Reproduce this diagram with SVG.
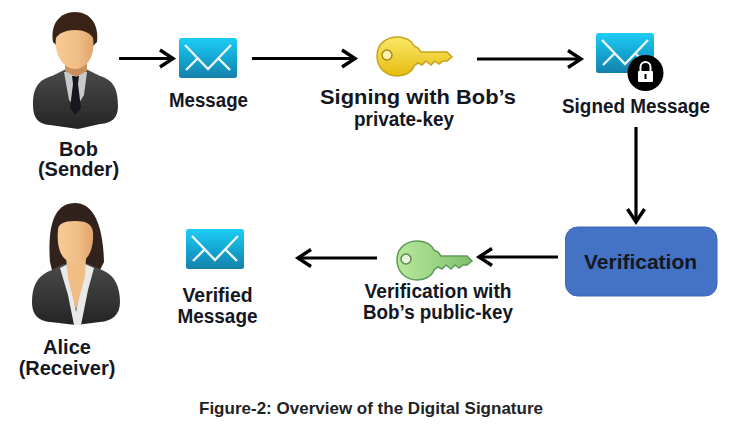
<svg xmlns="http://www.w3.org/2000/svg" width="755" height="448" viewBox="0 0 755 448">
<style>
text{font-family:"Liberation Sans",Arial,sans-serif;font-weight:700;fill:#14171f;text-anchor:middle;font-size:20px}
.c{fill:none;stroke:#000;stroke-width:3.2}
.h{fill:none;stroke:#000;stroke-width:3.4}
.flap{fill:none;stroke:#fff;stroke-width:2.4;stroke-opacity:.92}
</style>
<defs>
<linearGradient id="env" x1="0.5" y1="0" x2="0.5" y2="1"><stop offset="0" stop-color="#1ecdf5"/><stop offset=".55" stop-color="#13a3cf"/><stop offset="1" stop-color="#1580aa"/></linearGradient>
<linearGradient id="skin" x1="0" y1="0" x2="1" y2="0"><stop offset="0" stop-color="#f7cb96"/><stop offset=".6" stop-color="#f0bd85"/><stop offset="1" stop-color="#dfa56c"/></linearGradient>
<linearGradient id="suit" x1="0" y1="0" x2="0" y2="1"><stop offset="0" stop-color="#4a4a4a"/><stop offset="1" stop-color="#252525"/></linearGradient>
<linearGradient id="gold" x1="0" y1="0" x2="0" y2="1"><stop offset="0" stop-color="#fbe96a"/><stop offset="1" stop-color="#e6bb10"/></linearGradient>
<linearGradient id="green" x1="0" y1="0" x2="1" y2="0"><stop offset="0" stop-color="#b8e89a"/><stop offset="1" stop-color="#80c070"/></linearGradient>
<filter id="b" x="-5%" y="-5%" width="110%" height="110%"><feGaussianBlur stdDeviation=".5"/></filter>
<g id="envelope"><rect width="58" height="40" rx="2.5" fill="url(#env)"/><path class="flap" d="M6 7 L29 31 L52 7 M7 32 L19 20 M51 32 L39 20"/></g>
<path id="keyshape" d="M2 20 C2 7 12 1 23 1 C31 1 37 5 39 10 L43 12 L46 16 L72 16 L77 21 L72 25 L68 25 L64 28 L60 25 L56 29 L51 25 L47 29 L43 27 L39 30 C37 36 30 40 22 40 C11 40 2 32 2 20 Z"/>
</defs>
<rect width="755" height="448" fill="#fff"/>

<g id="connectors">
<path class="c" d="M119 58.500H172"/><path class="h" d="M160 50L173 58.500L160 67"/>
<path class="c" d="M252 58.500H354"/><path class="h" d="M342 50L355 58.500L342 67"/>
<path class="c" d="M477 59H580"/><path class="h" d="M568 50.500L581 59L568 67.500"/>
<path class="c" d="M636 127V221"/><path class="h" d="M627.500 209L636 222L644.500 209"/>
<path class="c" d="M558 257H480"/><path class="h" d="M492 248.500L479 257L492 265.500"/>
<path class="c" d="M377 258H299"/><path class="h" d="M311 249.500L298 258L311 266.500"/>
</g>

<g id="bob" filter="url(#b)">
<path d="M33 105 C33 88 38 80 52 76 L66 69 H86 L100 76 C114 80 118 90 118 106 C118 118 112 123 100 124 L78 129 L50 125 C38 124 33 118 33 105Z" fill="url(#suit)"/>
<path d="M64 72 L76 71 L87 72 L84 95 L76 108 L69 100Z" fill="#c9cacb"/>
<path d="M72 76 H79 L78 84 L81 108 L75.500 115 L70 108 L73 84Z" fill="#17181c"/>
<path d="M65 62 H87 V71 L76 77 L65 71Z" fill="#c98f5e"/>
<path d="M53 42 C50 24 60 12 75 12 C90 12 99 24 97 42 L93 46 L57 46Z" fill="#3a2417"/>
<path d="M56 38 C59 33 66 30 75 30 C84 30 90 33 93 38 C95 52 90 68 75 69 C61 68 54 52 56 38Z" fill="url(#skin)"/>
</g>
<g id="message"><use href="#envelope" x="179" y="38"/><text x="208.500" y="107" textLength="79" lengthAdjust="spacingAndGlyphs">Message</text></g>
<g id="bob-label"><text x="78.500" y="156">Bob</text><text x="78.500" y="176">(Sender)</text></g>

<g id="signing">
<use href="#keyshape" x="375" y="36" fill="url(#gold)" stroke="#c7a21a" stroke-width="1.500"/>
<circle cx="387" cy="55" r="5" fill="#fff3b0" stroke="#a98b14" stroke-width="1.500"/>
<text x="418" y="104" textLength="196" lengthAdjust="spacingAndGlyphs">Signing with Bob’s</text><text x="404" y="126" textLength="100" lengthAdjust="spacingAndGlyphs">private-key</text>
</g>

<g id="signed">
<use href="#envelope" x="596" y="33"/>
<circle cx="645.500" cy="73" r="18" fill="#000"/>
<path d="M640.500 71V67A5 5 0 0 1 650.500 67V71" fill="none" stroke="#fff" stroke-width="2"/>
<rect x="638" y="71" width="15" height="11" rx="1" fill="#fff"/>
<rect x="644.500" y="74" width="2" height="5" fill="#000"/>
<text x="636" y="113" textLength="148" lengthAdjust="spacingAndGlyphs">Signed Message</text>
</g>

<g id="verification">
<rect x="565.500" y="227" width="151.500" height="69" rx="12" fill="#4472c4" stroke="#3f68b5"/>
<text x="640.500" y="269" textLength="113" lengthAdjust="spacingAndGlyphs">Verification</text>
</g>

<g id="public-key">
<use href="#keyshape" x="395" y="240" fill="url(#green)" stroke="#5f9a58" stroke-width="1.500"/>
<circle cx="406" cy="259" r="5" fill="#e8f5dc" stroke="#5f8a50" stroke-width="1.500"/>
<text x="438" y="298" textLength="147" lengthAdjust="spacingAndGlyphs">Verification with</text><text x="438" y="319" textLength="150" lengthAdjust="spacingAndGlyphs">Bob’s public-key</text>
</g>

<g id="verified"><use href="#envelope" x="186" y="229"/><text x="217.500" y="302" textLength="70" lengthAdjust="spacingAndGlyphs">Verified</text><text x="217.500" y="323" textLength="80" lengthAdjust="spacingAndGlyphs">Message</text></g>

<g id="alice" filter="url(#b)">
<path d="M50 262 C47 222 56 203 75 203 C94 203 103 226 104 262 L100 270 L52 270Z" fill="#33201a"/>
<path d="M32 302 C32 285 38 275 52 270 L63 264 H88 L102 270 C115 275 120 287 120 302 C120 315 112 321 100 322 L76 325 L50 322 C40 321 32 316 32 302Z" fill="url(#suit)"/>
<path d="M60 268 L68 264 L76 312 L85 264 L94 268 L88 290 L81 325 H74 L68 295Z" fill="#e9e9e9"/>
<path d="M66 258 H86 L85 276 L76 310 L68 278Z" fill="#f0bd85"/>
<path d="M58 230 C58 224 64 221 75 221 C86 221 92 224 93 232 C94 250 88 263 75 263 C63 263 56 250 58 230Z" fill="url(#skin)"/>
</g>
<g id="alice-label"><text x="67" y="354">Alice</text><text x="67" y="375">(Receiver)</text></g>

<text id="caption" x="371" y="414" textLength="344" lengthAdjust="spacingAndGlyphs" style="font-size:16.500px;fill:#222">Figure-2: Overview of the Digital Signature</text>
</svg>
